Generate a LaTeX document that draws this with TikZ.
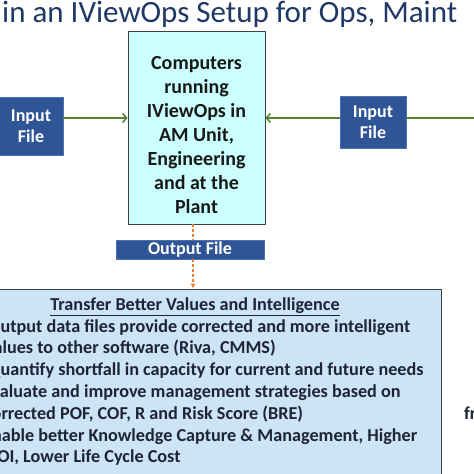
\documentclass[tikz,border=0pt]{standalone}
\usepackage{fontspec}
\setmainfont{Carlito}
\usetikzlibrary{arrows.meta}
\definecolor{titleblue}{HTML}{1F3864}
\definecolor{boxblue}{HTML}{2F5597}
\definecolor{boxedge}{HTML}{4A6FB5}
\definecolor{cyanfill}{HTML}{CCFFFF}
\definecolor{lightfill}{HTML}{CDE4F6}
\definecolor{arrowgreen}{HTML}{548235}
\definecolor{dashorange}{HTML}{ED7D31}
\definecolor{darkedge}{HTML}{3F3F3F}
\definecolor{bodytext}{HTML}{1C2436}
\begin{document}
\begin{tikzpicture}[x=1pt,y=-1pt,
  filebox/.style={draw=boxedge, line width=0.6pt, fill=boxblue, text=white,
    font=\fontsize{18}{21}\selectfont\bfseries, align=center, inner sep=0pt},
  greenarrow/.style={draw=arrowgreen, line width=1.5pt, -{Straight Barb[length=4pt,width=9pt]}},
  greenline/.style={draw=arrowgreen, line width=1.5pt},
  orangedash/.style={draw=dashorange, line width=1.3pt, dash pattern=on 3pt off 2pt},
  bodyfont/.style={font=\fontsize{18.2}{21.8}\selectfont\bfseries, text=bodytext},
  bodyline/.style={bodyfont, anchor=base west, inner sep=0pt}
]
\useasboundingbox (0,0) rectangle (474,474);
\clip (0,0) rectangle (474,474);
\fill[white] (0,0) rectangle (474,474);

\node[anchor=base west, inner sep=0pt, font=\fontsize{31}{33}\selectfont, text=titleblue] (title) at (2,22.5) {in an IViewOps Setup for Ops, Maint};

\node[draw=darkedge, fill=cyanfill, line width=0.8pt, minimum width=137pt, minimum height=193pt, inner sep=0pt] (comp) at (196.5,127.5) {};
\node[align=center, inner sep=0pt, font=\fontsize{20}{24}\selectfont\bfseries, text=black!90] (comptext) at (196.5,135.5) {Computers\\running\\IViewOps in\\AM Unit,\\Engineering\\and at the\\Plant};

\node[filebox, minimum width=64pt, minimum height=58pt] (inL) at (31,126) {Input\\File};
\node[filebox, minimum width=66pt, minimum height=52pt] (inR) at (373,122) {Input\\File};

\coordinate (lineY) at (0,118);
\coordinate (rEdge) at (480,118);
\draw[greenarrow] (inL.east |- lineY) -- (comp.west |- lineY);
\draw[greenline] (rEdge) -- (inR.east |- lineY);
\draw[greenarrow] (inR.west |- lineY) -- (comp.east |- lineY);

\node[filebox, minimum width=148pt, minimum height=19pt] (outf) at (190,249.5) {Output File};

\node[draw=darkedge, fill=lightfill, line width=0.8pt, minimum width=445pt, minimum height=188pt, inner sep=0pt] (bot) at (218.5,383) {};

\coordinate (dashX) at (193,0);
\draw[orangedash] (comp.south -| dashX) -- (outf.north -| dashX);
\draw[orangedash, -{Latex[length=5pt,width=5pt]}] (outf.south -| dashX) -- (bot.north -| dashX);

\node[bodyfont, inner sep=0pt] (bt) at (195,307) {\underline{Transfer Better Values and Intelligence}};
\node[bodyline] (l1) at (-12,332) {Output data files provide corrected and more intelligent};
\node[bodyline] (l2) at (-15,353.8) {values to other software (Riva, CMMS)};
\node[bodyline] (l3) at (-12,375.6) {Quantify shortfall in capacity for current and future needs};
\node[bodyline] (l4) at (-17,397.4) {Evaluate and improve management strategies based on};
\node[bodyline] (l5) at (-16,419.2) {corrected POF, COF, R and Risk Score (BRE)};
\node[bodyline] (l6) at (-17,441) {Enable better Knowledge Capture \& Management, Higher};
\node[bodyline] (l7) at (-13,462.8) {ROI, Lower Life Cycle Cost};

\node[bodyline] (fr) at (464,419) {fr};
\end{tikzpicture}
\end{document}
